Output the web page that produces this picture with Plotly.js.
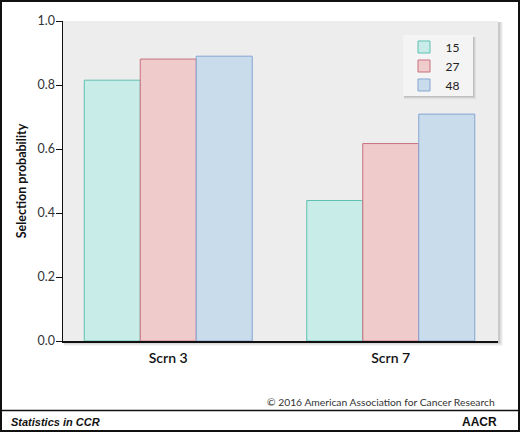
<!DOCTYPE html>
<html>
<head>
<meta charset="utf-8">
<script src="https://cdn.plot.ly/plotly-3.0.1.min.js"></script>
<style>
html,body{margin:0;padding:0;background:#fff;}
#chart{width:520px;height:432px;}
</style>
</head>
<body>
<div id="chart"></div>
<script>
// Data
const categories = ["Scrn 3", "Scrn 7"];
const seriesNames = ["15", "27", "48"];
const values15 = [0.815, 0.439];
const values27 = [0.881, 0.617];
const values48 = [0.890, 0.709];
const yTickVals = [0, 0.2, 0.4, 0.6, 0.8, 1.0];
const yTickText = ["0.0", "0.2", "0.4", "0.6", "0.8", "1.0"];

const fills = ["#c8ece8", "#f0cbcc", "#c9dcec"];
const lines = ["#5fc0b1", "#c7707e", "#85a5d2"];
const seriesValues = [values15, values27, values48];

const traces = seriesValues.map((vals, i) => ({
  type: "bar",
  name: seriesNames[i],
  x: categories,
  y: vals,
  marker: {color: fills[i], line: {color: lines[i], width: 1}},
  hoverinfo: "skip"
}));

// pixel helpers for paper coordinates (plot area 63..498 x 21..341)
const L = 63, R = 498, T = 21, B = 341;
const px = x => (x - L) / (R - L);
const py = y => (B - y) / (B - T);

const shapes = [];
// soft shadow of plot area
[[5,0.04],[4,0.05],[3,0.06],[2,0.07]].forEach(([o,a]) => {
  shapes.push({type:"rect", xref:"paper", yref:"paper", layer:"below",
    x0: px(L + 1), x1: px(R + o), y0: py(B + o), y1: py(T + 1),
    fillcolor: "rgba(0,0,0," + a + ")", line: {width: 0}});
});
// plot background
shapes.push({type:"rect", xref:"paper", yref:"paper", layer:"below",
  x0: 0, x1: 1, y0: 0, y1: 1, fillcolor: "#ededed", line: {width: 0}});
// legend box with shadow
[[3,0.05],[2,0.07],[1,0.08]].forEach(([o,a]) => {
  shapes.push({type:"rect", xref:"paper", yref:"paper", layer:"above",
    x0: px(404), x1: px(473 + o), y0: py(96 + o), y1: py(37),
    fillcolor: "rgba(0,0,0," + a + ")", line: {width: 0}});
});
shapes.push({type:"rect", xref:"paper", yref:"paper", layer:"above",
  x0: px(403), x1: px(473), y0: py(96), y1: py(35),
  fillcolor: "#f4f4f4", line: {width: 0}});
// footer divider
shapes.push({type:"line", xref:"paper", yref:"paper",
  x0: px(0), x1: px(520), y0: py(410.5), y1: py(410.5),
  line: {color: "#111", width: 1.5}});
// outer border
shapes.push({type:"rect", xref:"paper", yref:"paper",
  x0: px(1), x1: px(519), y0: py(431), y1: py(1),
  line: {color: "#111", width: 2}});

const annotations = [
  {xref:"paper", yref:"paper", x: px(497), y: py(402), xanchor:"right", yanchor:"middle",
   text:"© 2016 American Association for Cancer Research", showarrow:false,
   font:{family:"Lato, sans-serif", size:10.3, color:"#333"}},
  {xref:"paper", yref:"paper", x: px(9), y: py(421.5), xanchor:"left", yanchor:"middle",
   text:"<b><i>Statistics in CCR</i></b>", showarrow:false,
   font:{family:"Liberation Sans, Arial, sans-serif", size:11, color:"#111"}},
  {xref:"paper", yref:"paper", x: px(499), y: py(421.5), xanchor:"right", yanchor:"middle",
   text:"<b>AACR</b>", showarrow:false,
   font:{family:"Liberation Sans, Arial, sans-serif", size:12, color:"#111"}}
];

const layout = {
  width: 520, height: 432,
  margin: {l: L, r: 520 - R, t: T, b: 432 - B, pad: 0},
  paper_bgcolor: "rgba(0,0,0,0)",
  plot_bgcolor: "rgba(0,0,0,0)",
  barmode: "group",
  bargap: 0.245,
  bargroupgap: 0,
  font: {family: "Lato, sans-serif", color: "#222"},
  showlegend: true,
  legend: {
    x: px(402.5), y: py(32.5), xanchor: "left", yanchor: "top",
    bgcolor: "rgba(0,0,0,0)", borderwidth: 0,
    font: {family: "Lato, sans-serif", size: 12, color: "#222"},
    itemwidth: 33, tracegroupgap: 0
  },
  xaxis: {
    type: "category",
    range: [-0.473, 1.482],
    showline: true, linecolor: "#111", linewidth: 1.5,
    ticks: "", showgrid: false, zeroline: false,
    tickfont: {family: "Lato, sans-serif", size: 14, color: "#111", weight: 600},
    ticklabelstandoff: 4,
    fixedrange: true
  },
  yaxis: {
    range: [0, 1],
    tickvals: yTickVals, ticktext: yTickText,
    showline: true, linecolor: "#111", linewidth: 1.5,
    ticks: "outside", ticklen: 6, tickwidth: 1, tickcolor: "#111",
    showgrid: false, zeroline: false,
    tickfont: {family: "Lato, sans-serif", size: 12.5, color: "#333"},
    ticklabelstandoff: -2,
    title: {text: "Selection probability", standoff: 8,
      font: {family: "Lato, sans-serif", size: 12.5, color: "#111", weight: 700}},
    fixedrange: true
  },
  shapes: shapes,
  annotations: annotations
};

Plotly.newPlot("chart", traces, layout, {displayModeBar: false, staticPlot: true});
</script>
</body>
</html>
